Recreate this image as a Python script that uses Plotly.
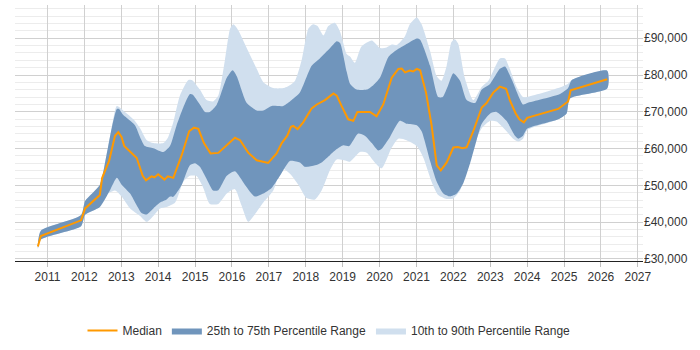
import plotly.graph_objects as go

# Median
x_med = [2010.74, 2010.82, 2011.91, 2012.02, 2012.42, 2012.48, 2012.67, 2012.83, 2012.92, 2013.01,
         2013.08, 2013.42, 2013.58, 2013.67, 2013.82, 2013.90, 2014.00, 2014.17, 2014.26, 2014.41,
         2014.64, 2014.84, 2014.97, 2015.09, 2015.24, 2015.42, 2015.63, 2015.86, 2016.08, 2016.22,
         2016.44, 2016.67, 2016.98, 2017.21, 2017.35, 2017.50, 2017.60, 2017.66, 2017.78, 2017.93,
         2018.16, 2018.30, 2018.52, 2018.75, 2018.84, 2018.97, 2019.15, 2019.29, 2019.40, 2019.74,
         2019.92, 2020.10, 2020.33, 2020.51, 2020.60, 2020.69, 2020.82, 2020.91, 2021.01, 2021.10,
         2021.26, 2021.41, 2021.55, 2021.66, 2021.82, 2022.00, 2022.12, 2022.25, 2022.36, 2022.54,
         2022.77, 2022.90, 2023.08, 2023.26, 2023.43, 2023.53, 2023.69, 2023.79, 2023.91, 2024.00,
         2024.84, 2025.11, 2025.18, 2026.17]
y_med = [33400, 36220, 40490, 43730, 47370, 51970, 56650, 63500, 64470, 63110,
         60690, 57450, 52600, 51390, 52450, 52200, 53010, 51560, 52450, 52040,
         58270, 64710, 65680, 65370, 61490, 58660, 58830, 61080, 62950, 62290,
         58900, 56810, 56090, 58660, 61490, 63500, 65930, 66170, 65300, 67140,
         70940, 71990, 73190, 74980, 74400, 71590, 67960, 67550, 69970, 69970,
         68760, 71990, 79250, 81670, 81750, 80700, 81190, 80950, 81670, 81270,
         75220, 66340, 55440, 54060, 56240, 60280, 60400, 60110, 60350, 64710,
         71180, 72390, 75220, 76830, 76270, 73190, 69560, 67960, 67140, 68350,
         70770, 72800, 75860, 78860]

# 75th percentile
x_p75 = [2010.74, 2010.82, 2011.91, 2012.02, 2012.42, 2012.60, 2012.74, 2012.88, 2012.94, 2013.05,
         2013.37, 2013.51, 2013.64, 2013.87, 2014.14, 2014.32, 2014.50, 2014.68, 2014.86, 2014.93,
         2015.13, 2015.27, 2015.40, 2015.59, 2015.86, 2016.02, 2016.13, 2016.40, 2016.67, 2016.85,
         2017.08, 2017.39, 2017.62, 2017.84, 2018.16, 2018.38, 2018.66, 2018.84, 2018.93, 2019.11,
         2019.20, 2019.38, 2019.65, 2019.83, 2020.01, 2020.24, 2020.42, 2020.69, 2021.01, 2021.10,
         2021.37, 2021.59, 2021.71, 2021.86, 2022.00, 2022.18, 2022.36, 2022.59, 2022.77, 2023.00,
         2023.26, 2023.40, 2023.58, 2023.89, 2024.00, 2024.89, 2025.11, 2025.21, 2026.17]
y_p75 = [34200, 37680, 41940, 45740, 50180, 58270, 65540, 70770, 70770, 69170,
         66340, 63110, 60690, 60110, 59070, 60690, 66340, 71180, 74820, 74700,
         71990, 69970, 69970, 71990, 79250, 81270, 79650, 72390, 70380, 70330,
         71590, 71590, 73190, 75220, 82490, 84500, 87340, 89180, 88700, 80870,
         77650, 76030, 76030, 77240, 79250, 84910, 86520, 88140, 89910, 89580,
         82490, 74010, 74010, 77240, 80460, 78450, 73190, 72390, 76030, 77650,
         81670, 82330, 78860, 71990, 72390, 74820, 76440, 78620, 81190]

# 25th percentile
x_p25 = [2010.74, 2010.82, 2011.91, 2012.02, 2012.42, 2012.69, 2012.88, 2013.01, 2013.24, 2013.42,
         2013.55, 2013.69, 2013.87, 2014.05, 2014.23, 2014.32, 2014.41, 2014.64, 2014.86, 2015.00,
         2015.13, 2015.31, 2015.49, 2015.63, 2015.86, 2016.08, 2016.35, 2016.62, 2016.85, 2017.08,
         2017.30, 2017.57, 2017.84, 2017.98, 2018.25, 2018.43, 2018.66, 2018.84, 2019.02, 2019.18,
         2019.42, 2019.60, 2019.79, 2019.96, 2020.05, 2020.28, 2020.55, 2020.73, 2021.01, 2021.14,
         2021.37, 2021.55, 2021.73, 2021.91, 2022.09, 2022.27, 2022.45, 2022.63, 2022.77, 2023.00,
         2023.17, 2023.44, 2023.67, 2023.76, 2023.89, 2024.00, 2024.84, 2025.07, 2025.16, 2026.17]
y_p25 = [32800, 35260, 38890, 42000, 44120, 48580, 52040, 50180, 47760, 44540,
         42520, 42110, 43730, 45330, 46160, 46960, 46880, 50180, 55440, 56000,
         55030, 51800, 48580, 48700, 52600, 53810, 50180, 46960, 47760, 49380,
         52600, 56650, 56240, 55030, 55440, 56240, 58270, 59870, 60930, 60690,
         64080, 63500, 61490, 59480, 59870, 63110, 67550, 66750, 66340, 64710,
         56650, 51000, 47760, 46960, 47760, 50590, 55850, 62290, 66750, 69560,
         69970, 67550, 63500, 62700, 63500, 65370, 67960, 69560, 73600, 76340]

# 90th percentile
x_p90 = [2010.74, 2010.82, 2011.91, 2012.02, 2012.42, 2012.60, 2012.74, 2012.88, 2013.10, 2013.33,
         2013.51, 2013.69, 2013.87, 2014.14, 2014.27, 2014.41, 2014.59, 2014.82, 2014.93, 2015.13,
         2015.31, 2015.49, 2015.63, 2015.81, 2015.95, 2016.04, 2016.17, 2016.40, 2016.67, 2016.85,
         2017.12, 2017.39, 2017.57, 2017.71, 2017.89, 2018.07, 2018.20, 2018.32, 2018.48, 2018.61,
         2018.79, 2018.93, 2019.11, 2019.20, 2019.33, 2019.51, 2019.79, 2020.01, 2020.19, 2020.33,
         2020.46, 2020.69, 2020.82, 2021.01, 2021.14, 2021.37, 2021.55, 2021.68, 2021.82, 2021.95,
         2022.04, 2022.13, 2022.31, 2022.54, 2022.77, 2022.95, 2023.26, 2023.40, 2023.53, 2023.71,
         2023.89, 2024.00, 2024.84, 2025.11, 2025.21, 2026.17]
y_p90 = [34200, 37680, 41940, 45740, 50180, 58270, 65540, 71590, 69970, 67960,
         65540, 62290, 61490, 61490, 63110, 67140, 74400, 78620, 78540, 76030,
         73190, 72800, 74400, 84090, 92570, 93780, 92170, 87340, 81670, 78040,
         76440, 76440, 77240, 78450, 84090, 92570, 93780, 93300, 90720, 93290,
         94190, 91770, 85710, 85000, 83300, 87730, 89350, 87340, 87500, 88300,
         88140, 90560, 93780, 95650, 93780, 86520, 79650, 78450, 82490, 88940,
         89750, 88550, 79250, 73190, 76830, 78450, 84500, 84500, 81670, 76830,
         74010, 74010, 76440, 77650, 78620, 81190]

# 10th percentile
x_p10 = [2010.74, 2010.82, 2011.91, 2012.02, 2012.42, 2012.47, 2012.83, 2013.01, 2013.24, 2013.51,
         2013.69, 2013.87, 2014.05, 2014.23, 2014.46, 2014.68, 2014.86, 2015.04, 2015.22, 2015.40,
         2015.63, 2015.86, 2016.08, 2016.26, 2016.44, 2016.62, 2016.85, 2017.12, 2017.35, 2017.57,
         2017.80, 2018.02, 2018.25, 2018.43, 2018.66, 2018.84, 2019.11, 2019.20, 2019.47, 2019.65,
         2019.87, 2020.06, 2020.33, 2020.51, 2020.73, 2021.01, 2021.19, 2021.41, 2021.59, 2021.82,
         2022.00, 2022.18, 2022.40, 2022.63, 2022.77, 2023.00, 2023.17, 2023.44, 2023.62, 2023.76,
         2023.89, 2024.00, 2024.84, 2025.07, 2025.16, 2026.17]
y_p10 = [32800, 35260, 38890, 42000, 44120, 46550, 48580, 46960, 43730, 41700,
         40100, 41700, 43730, 44120, 45330, 51000, 52600, 52520, 49380, 44950,
         44950, 47760, 48970, 44540, 40100, 42110, 45330, 48580, 54640, 53180,
         50180, 46550, 46160, 48580, 54220, 57050, 56650, 56450, 59070, 58870,
         56240, 54640, 60280, 62700, 62290, 60690, 57450, 51000, 47370, 46300,
         46450, 48580, 55030, 62700, 65540, 67550, 67340, 64710, 62700, 61900,
         62700, 65000, 67960, 69560, 73600, 76340]

year_ticks = list(range(2011, 2028))

fig = go.Figure()

fig.add_trace(go.Scatter(
    x=x_p90 + x_p10[::-1], y=y_p90 + y_p10[::-1],
    fill="toself", fillcolor="rgb(208,223,238)",
    line=dict(width=0, shape="spline", smoothing=0.6),
    mode="lines", name="10th to 90th Percentile Range", legendrank=3,
    hoverinfo="skip"))

fig.add_trace(go.Scatter(
    x=x_p75 + x_p25[::-1], y=y_p75 + y_p25[::-1],
    fill="toself", fillcolor="rgb(112,149,188)",
    line=dict(width=0, shape="spline", smoothing=0.6),
    mode="lines", name="25th to 75th Percentile Range", legendrank=2,
    hoverinfo="skip"))

fig.add_trace(go.Scatter(
    x=x_med, y=y_med, mode="lines", name="Median", legendrank=1,
    line=dict(color="rgb(255,153,0)", width=2)))

fig.update_layout(
    width=700, height=350,
    margin=dict(l=15, r=57, t=5, b=58),
    paper_bgcolor="white", plot_bgcolor="white",
    font=dict(family="Liberation Sans, Arial, sans-serif", size=12, color="#333"),
    showlegend=True,
    legend=dict(orientation="h", x=0.5, xanchor="center", y=-0.215, yanchor="top",
                font=dict(size=12, color="#333"), itemwidth=30),
)

fig.update_xaxes(
    range=[2010.12, 2027.14],
    tickmode="array", tickvals=year_ticks, ticktext=[str(y) for y in year_ticks],
    showgrid=True, gridcolor="#d0d0d0", gridwidth=1,
    showline=True, linecolor="#222", linewidth=1,
    ticks="outside", ticklen=5, tickcolor="#c0c0c0",
    zeroline=False, tickfont=dict(size=12, color="#333"),
)

fig.update_yaxes(
    range=[29440, 99030], side="right",
    tickmode="linear", tick0=30000, dtick=10000,
    tickprefix="£", tickformat=",d",
    showgrid=True, gridcolor="#d0d0d0", gridwidth=1,
    minor=dict(dtick=2000, tick0=30000, showgrid=True, gridcolor="#ececec", gridwidth=1),
    showline=False, zeroline=False, ticks="",
    tickfont=dict(size=12, color="#333"),
)

fig.write_html("out.html")
